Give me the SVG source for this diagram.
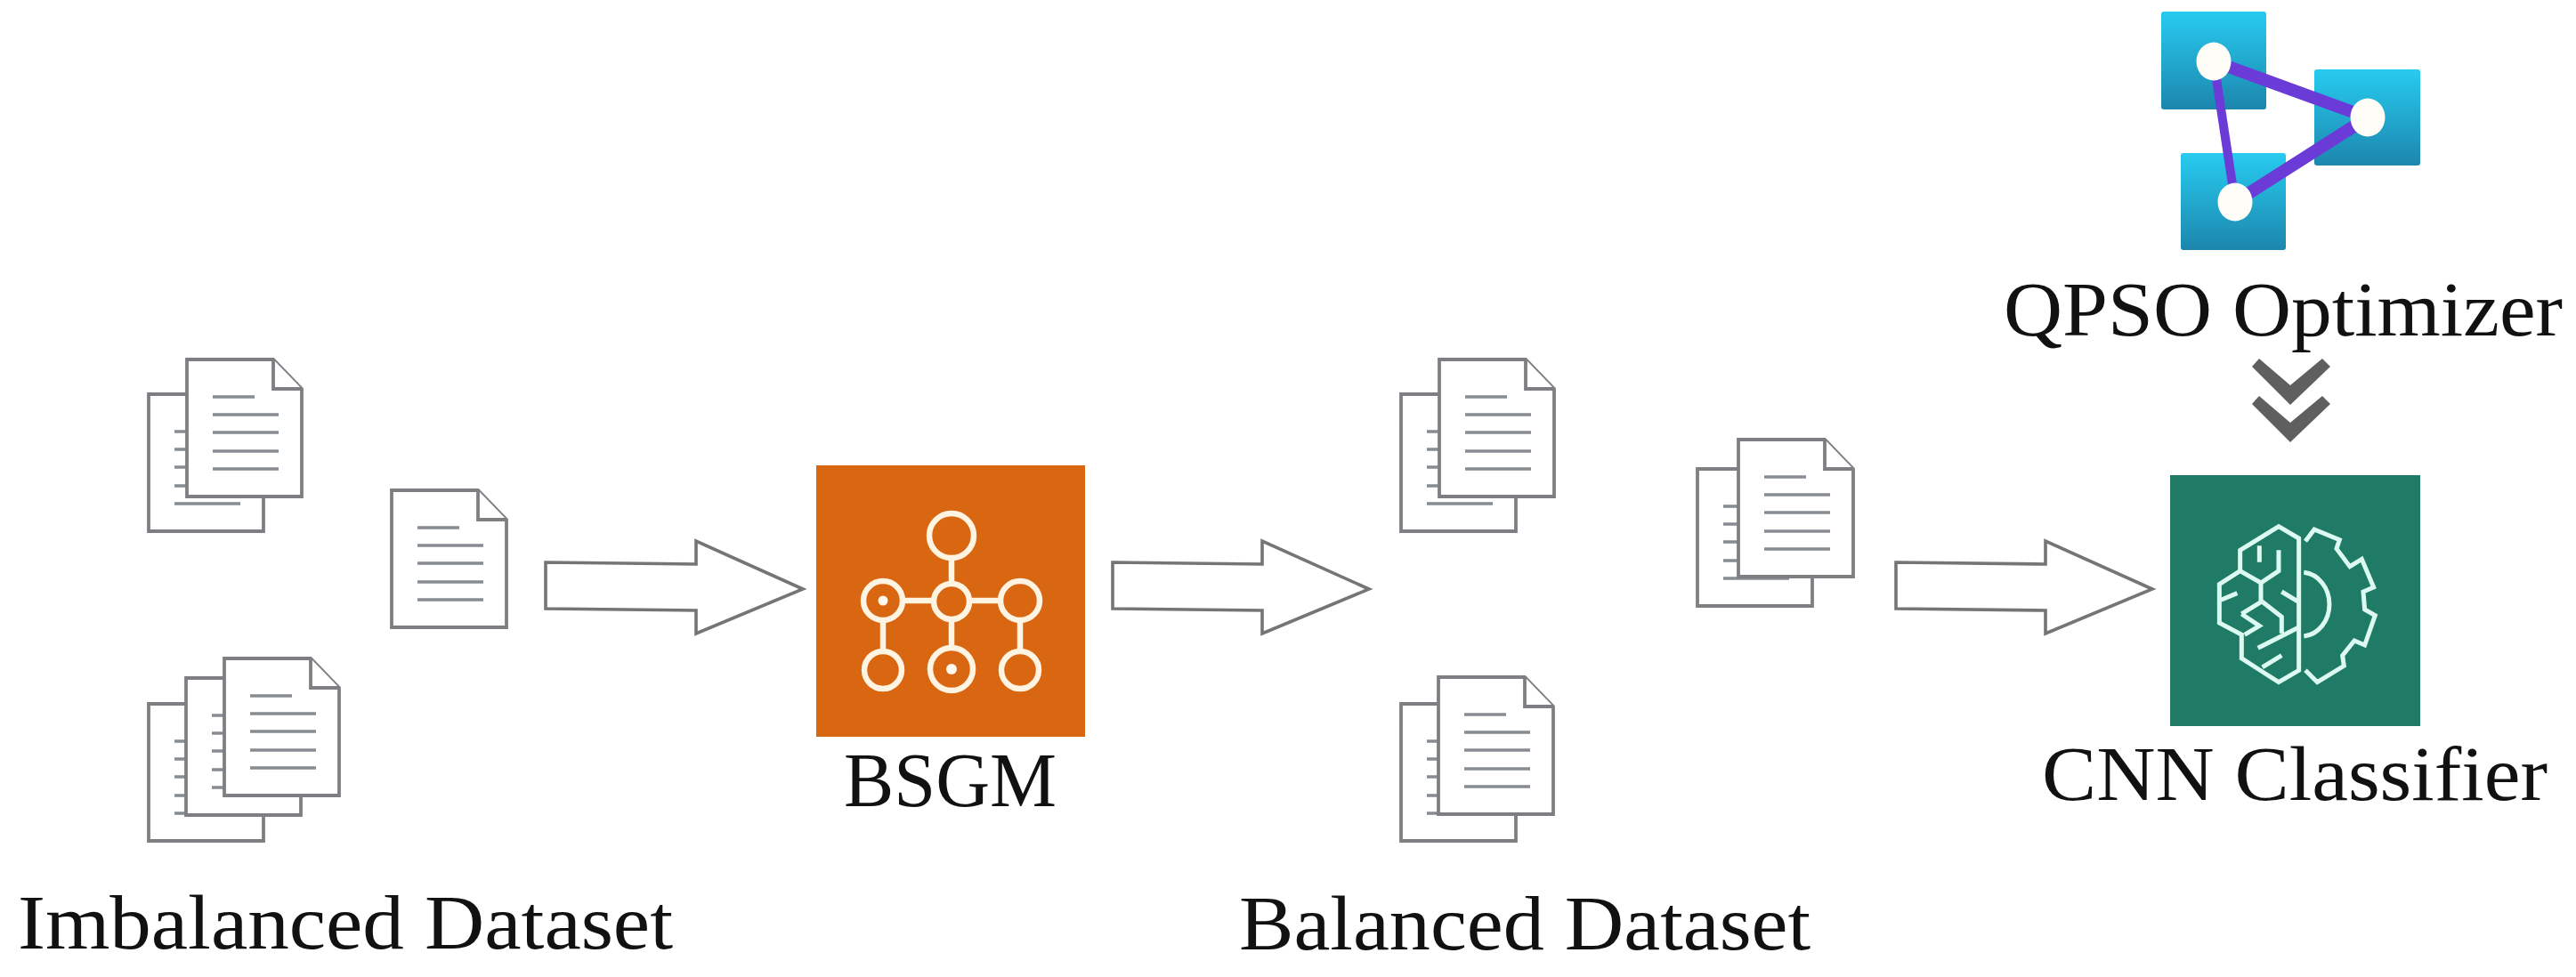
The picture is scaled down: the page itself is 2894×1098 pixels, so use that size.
<svg xmlns="http://www.w3.org/2000/svg" xmlns:xlink="http://www.w3.org/1999/xlink" width="2894" height="1098" viewBox="0 0 2894 1098">
<style>
.pg{fill:#fff;stroke:#7d7f82;stroke-width:3.8;stroke-linejoin:miter}
.ln{stroke:#868c92;stroke-width:3.4;fill:none}
.lt .ln{stroke:#9ea2a4;stroke-width:2.4}
.lbl{font-family:"Liberation Serif","DejaVu Serif",serif;font-size:86px;fill:#111}
.arr{fill:#fff;stroke:#737577;stroke-width:3.6}
.chev{fill:#5f5f5f}
.sq{fill:url(#sqg)}
.ed{stroke:#6b3bd8;fill:none}
.nd{fill:#fffdf8}
.o{fill:none;stroke:#fff3e2;stroke-width:6.5}
.ol{stroke:#fff3e2;stroke-width:6.5}
.dot{fill:#fff8ec}
.br{fill:none;stroke:#dcfaf2;stroke-width:15;stroke-linejoin:miter}
</style>
<defs>
<linearGradient id="sqg" x1="0" y1="0" x2="0" y2="1"><stop offset="0" stop-color="#28cbf0"/><stop offset="1" stop-color="#1c86ad"/></linearGradient>
<g id="page">
<path class="pg" d="M0 0H97L129 33V154H0Z"/>
<path class="pg" d="M97 0V33H129"/>
<path class="ln" d="M29 42H76M29 62H103M29 82H103M29 103H103M29 123H103"/>
</g>
</defs>
<rect width="2894" height="1098" fill="#fff"/>

<g id="connectors">
<path class="arr" d="M613 632L782 634V608L902 662L782 712V686L613 684Z"/>
<path class="arr" d="M1250 632L1418 634V608L1538 662L1418 712V686L1250 684Z"/>
<path class="arr" d="M2130 632L2298 634V608L2418 662L2298 712V686L2130 684Z"/>
<path class="chev" d="M2530 412L2538 403L2573 433L2609 403L2618 412L2573 455Z"/>
<path class="chev" d="M2530 454L2538 445L2573 475L2609 445L2618 454L2573 497Z"/>
</g>

<g id="imbalanced-dataset">
<g id="doc-a"><use href="#page" x="167" y="443"/><use href="#page" x="210" y="404"/></g>
<g id="doc-b" class="lt"><use href="#page" x="440" y="551"/></g>
<g id="doc-c"><use href="#page" x="167" y="791"/><use href="#page" x="209" y="762"/><use href="#page" x="252" y="740"/></g>
<text class="lbl" x="20" y="1066" textLength="736" lengthAdjust="spacingAndGlyphs">Imbalanced Dataset</text>
</g>

<g id="bsgm">
<rect x="917" y="523" width="302" height="305" fill="#d96610"/>
<path class="ol" d="M1069 630V656M1014 675H1049M1089 675H1124M992 697V732M1069 696V728M1146 697V732"/>
<circle class="o" cx="1069" cy="602" r="25"/>
<circle class="o" cx="992" cy="675" r="22"/>
<circle class="o" cx="1069" cy="676" r="20"/>
<circle class="o" cx="1146" cy="675" r="22"/>
<circle class="o" cx="992" cy="753" r="21"/>
<circle class="o" cx="1069" cy="752" r="24"/>
<circle class="o" cx="1146" cy="753" r="21"/>
<circle class="dot" cx="992" cy="675" r="5.5"/>
<circle class="dot" cx="1069" cy="752" r="6"/>
<text class="lbl" x="948" y="906" textLength="239" lengthAdjust="spacingAndGlyphs">BSGM</text>
</g>

<g id="balanced-dataset">
<g id="doc-d"><use href="#page" x="1574" y="443"/><use href="#page" x="1617" y="404"/></g>
<g id="doc-f" class="lt"><use href="#page" x="1574" y="791"/><use href="#page" x="1616" y="761"/></g>
<text class="lbl" x="1392" y="1067" textLength="642" lengthAdjust="spacingAndGlyphs">Balanced Dataset</text>
</g>

<g id="doc-e"><use href="#page" x="1907" y="527"/><use href="#page" x="1953" y="494"/></g>

<g id="qpso-optimizer">
<rect class="sq" x="2428" y="13" width="118" height="110" rx="3"/>
<rect class="sq" x="2600" y="78" width="119" height="108" rx="3"/>
<rect class="sq" x="2450" y="172" width="118" height="109" rx="3"/>
<path class="ed" stroke-width="14" d="M2487 69L2660 132"/>
<path class="ed" stroke-width="10" d="M2487 69L2511 227"/>
<path class="ed" stroke-width="14" d="M2660 132L2511 227"/>
<ellipse class="nd" cx="2487" cy="69" rx="19.5" ry="21.5"/>
<ellipse class="nd" cx="2660" cy="132" rx="19.5" ry="21.5"/>
<ellipse class="nd" cx="2511" cy="227" rx="19.5" ry="21.5"/>
<text class="lbl" x="2251" y="377" textLength="628" lengthAdjust="spacingAndGlyphs">QPSO Optimizer</text>
</g>

<g id="cnn-classifier">
<rect x="2438" y="534" width="281" height="282" fill="#1f7a66"/>
<g transform="translate(2400 520) scale(.3333)">
<path class="br" d="M548 255L480 215L350 295V365L280 410V540L355 580V660L480 740L548 700Z"/>
<path class="br" d="M415 280V335M480 295V365L420 405L350 365M420 405V465L490 520V575M280 465L340 440M355 510L420 470M355 510L415 550L365 580M490 435L548 470M410 625L548 555M425 690L490 650"/>
<path class="br" d="M570 265L600 225L685 260L675 290L720 350L760 325L800 420L765 435L770 495L805 515L770 615L735 600L695 650L700 685L610 740L570 700"/>
<path class="br" d="M565 370A95 108 0 0 1 565 585"/>
</g>
<text class="lbl" x="2294" y="899" textLength="568" lengthAdjust="spacingAndGlyphs">CNN Classifier</text>
</g>
</svg>
